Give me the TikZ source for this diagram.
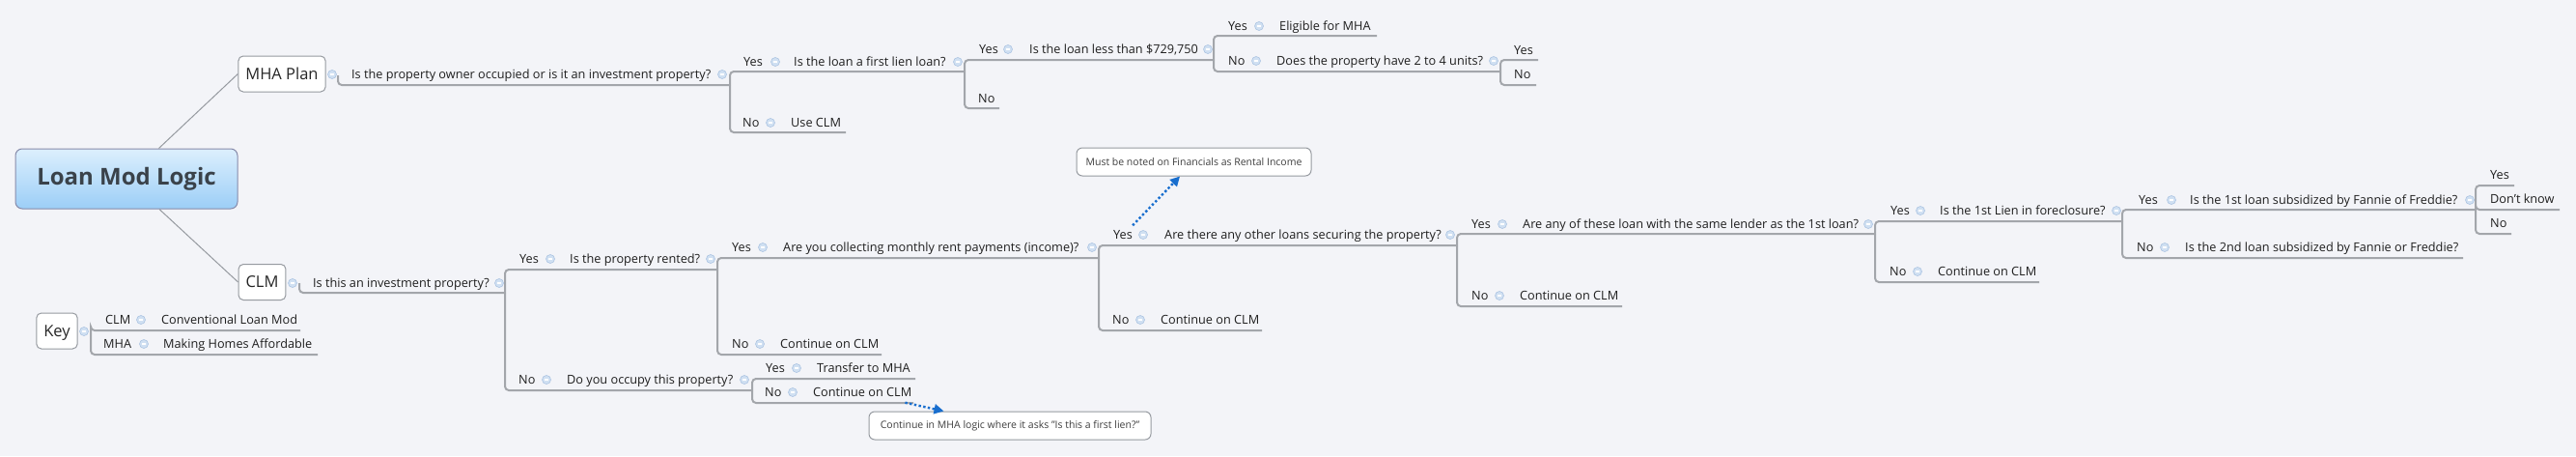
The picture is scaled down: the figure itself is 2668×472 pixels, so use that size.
\documentclass[tikz,border=0pt]{standalone}
\usepackage{fontspec}
\setmainfont{Open Sans}
\usepackage{tikz}
\usetikzlibrary{arrows.meta}

\definecolor{bg}{RGB}{243,244,248}
\definecolor{branchgrey}{RGB}{163,166,171}
\definecolor{boxgrey}{RGB}{150,154,160}
\definecolor{foldfill}{RGB}{208,224,242}
\definecolor{folddraw}{RGB}{172,196,226}
\definecolor{rootfont}{RGB}{58,66,74}
\definecolor{roottop}{RGB}{220,239,253}
\definecolor{rootbottom}{RGB}{156,206,247}
\definecolor{linkblue}{RGB}{24,110,206}
\definecolor{notefont}{RGB}{62,62,62}

\tikzset{
  txt/.style={anchor=west, inner sep=0pt, text height=9.07pt, text depth=0pt,
    font=\fontsize{12.7}{15}\selectfont, text=black!88},
  topicbox/.style={draw=boxgrey, fill=white, rounded corners=5pt, line width=1pt,
    minimum height=37pt, inner xsep=7.5pt, text height=11.8pt, text depth=0pt,
    font=\fontsize{16.5}{19}\selectfont, text=black!85},
  rootbox/.style={draw=boxgrey!90!blue, top color=roottop, bottom color=rootbottom,
    rounded corners=7pt, line width=1pt, minimum width=230pt, minimum height=62pt,
    font=\fontsize{24}{28}\selectfont\bfseries, text=rootfont},
  fold/.style={circle, inner sep=0pt, minimum size=9pt, fill=foldfill, draw=folddraw,
    line width=0.6pt,
    path picture={\draw[white, line width=1.1pt]
      ([xshift=-2.2pt]path picture bounding box.center) --
      ([xshift=2.2pt]path picture bounding box.center);}},
  notebox/.style={draw=boxgrey, fill=white, rounded corners=6pt, line width=1pt,
    minimum height=29pt, font=\fontsize{10.5}{12}\selectfont, text=notefont},
  branch/.style={draw=branchgrey, line width=2pt, rounded corners=4pt},
  spoke/.style={draw=boxgrey, line width=1pt},
  notelink/.style={draw=linkblue, line width=2.4pt, dash pattern=on 2.4pt off 2.4pt,
    -{Triangle[length=10pt,width=10pt]}},
}

\begin{document}
\begin{tikzpicture}[x=1pt,y=-1pt]
\useasboundingbox[fill=bg] (0,0) rectangle (2668,472);

% central topic and main branches
\node[rootbox] (root) at (131,185) {Loan Mod Logic};
\node[topicbox] (mha) at (292,76.5) {MHA Plan};
\node[topicbox] (clm) at (271.5,292) {CLM};
\node[topicbox] (key) at (59,342.5) {Key};
\draw[spoke] (root) -- (mha.west);
\draw[spoke] (root) -- (clm.west);

% MHA Plan
\node[fold] (mhaf) at (344,77) {};
\node[txt] (q1) at (364,77) {Is the property owner occupied or is it an investment property?};
\node[fold] (q1f) at (748,77) {};
\node[txt] (y1) at (770,64) {Yes};
\node[fold] (y1f) at (803,64) {};
\node[txt] (q2) at (822,64) {Is the loan a first lien loan?};
\node[fold] (q2f) at (992,64) {};
\node[txt] (n1) at (769,127) {No};
\node[fold] (n1f) at (798,127) {};
\node[txt] (usecl) at (819,127) {Use CLM};
\node[txt] (y2) at (1014,51) {Yes};
\node[fold] (y2f) at (1044,51) {};
\node[txt] (q3) at (1066,51) {Is the loan less than \$729,750};
\node[fold] (q3f) at (1251,51) {};
\node[txt] (n2) at (1013,102) {No};
\node[txt] (y3) at (1272,27) {Yes};
\node[fold] (y3f) at (1304,27) {};
\node[txt] (elig) at (1325,27) {Eligible for MHA};
\node[txt] (n3) at (1272,63) {No};
\node[fold] (n3f) at (1301,63) {};
\node[txt] (q4) at (1322,63) {Does the property have 2 to 4 units?};
\node[fold] (q4f) at (1547,63) {};
\node[txt] (y4) at (1568,52) {Yes};
\node[txt] (n4) at (1568,77) {No};

\coordinate (j0) at (350,78);
\coordinate (j1) at (756,88);
\coordinate (j2) at (999,74);
\coordinate (j3) at (1257,62);
\coordinate (j4) at (1554,74);
\coordinate (eusecl) at (876,137);
\coordinate (en2) at (1035,112);
\coordinate (eelig) at (1426,37);
\coordinate (ey4) at (1593,62);
\coordinate (en4) at (1591,88);
\draw[branch] (j0) |- (j1);
\draw[branch] (j1) |- (j2);
\draw[branch] (j1) |- (eusecl);
\draw[branch] (j2) |- (j3);
\draw[branch] (j2) |- (en2);
\draw[branch] (j3) |- (eelig);
\draw[branch] (j3) |- (j4);
\draw[branch] (j4) |- (ey4);
\draw[branch] (j4) |- (en4);

% CLM
\node[fold] (clmf) at (303,293) {};
\node[txt] (q5) at (324,293) {Is this an investment property?};
\node[fold] (q5f) at (517,293) {};
\node[txt] (y5) at (538,268) {Yes};
\node[fold] (y5f) at (570,268) {};
\node[txt] (q6) at (590,268) {Is the property rented?};
\node[fold] (q6f) at (736,268) {};
\node[txt] (n5) at (537,393) {No};
\node[fold] (n5f) at (566,393) {};
\node[txt] (q7) at (587,393) {Do you occupy this property?};
\node[fold] (q7f) at (771,393) {};
\node[txt] (y6) at (758,256) {Yes};
\node[fold] (y6f) at (790,256) {};
\node[txt] (q8) at (811,256) {Are you collecting monthly rent payments (income)?};
\node[fold] (q8f) at (1131,256) {};
\node[txt] (n6) at (758,356) {No};
\node[fold] (n6f) at (787,356) {};
\node[txt] (c1) at (808,356) {Continue on CLM};
\node[txt] (y7) at (793,381) {Yes};
\node[fold] (y7f) at (825,381) {};
\node[txt] (tmha) at (846,381) {Transfer to MHA};
\node[txt] (n7) at (792,406) {No};
\node[fold] (n7f) at (821,406) {};
\node[txt] (c2) at (842,406) {Continue on CLM};
\node[txt] (y8) at (1153,243) {Yes};
\node[fold] (y8f) at (1184,243) {};
\node[txt] (q9) at (1206,243) {Are there any other loans securing the property?};
\node[fold] (q9f) at (1502,243) {};
\node[txt] (n8) at (1152,331) {No};
\node[fold] (n8f) at (1181,331) {};
\node[txt] (c3) at (1202,331) {Continue on CLM};
\node[txt] (y9) at (1524,232) {Yes};
\node[fold] (y9f) at (1556,232) {};
\node[txt] (q10) at (1577,232) {Are any of these loan with the same lender as the 1st loan?};
\node[fold] (q10f) at (1935,232) {};
\node[txt] (n9) at (1524,306) {No};
\node[fold] (n9f) at (1553,306) {};
\node[txt] (c4) at (1574,306) {Continue on CLM};
\node[txt] (y10) at (1958,218) {Yes};
\node[fold] (y10f) at (1989,218) {};
\node[txt] (q11) at (2009,218) {Is the 1st Lien in foreclosure?};
\node[fold] (q11f) at (2192,218) {};
\node[txt] (n10) at (1957,281) {No};
\node[fold] (n10f) at (1986,281) {};
\node[txt] (c5) at (2007,281) {Continue on CLM};
\node[txt] (y11) at (2215,207) {Yes};
\node[fold] (y11f) at (2249,207) {};
\node[txt] (q12) at (2268,207) {Is the 1st loan subsidized by Fannie of Freddie?};
\node[fold] (q12f) at (2558,207) {};
\node[txt] (n11) at (2213,256) {No};
\node[fold] (n11f) at (2242,256) {};
\node[txt] (q13) at (2263,256) {Is the 2nd loan subsidized by Fannie or Freddie?};
\node[txt] (y12) at (2579,181) {Yes};
\node[txt] (dk) at (2579,206) {Don't know};
\node[txt] (n12) at (2579,231) {No};

\coordinate (k0) at (310,293);
\coordinate (k1) at (523,303);
\coordinate (k2) at (743,279);
\coordinate (k3) at (779,404);
\coordinate (k4) at (1138,267);
\coordinate (k5) at (1509,254);
\coordinate (k6) at (1942,242);
\coordinate (k7) at (2198,229);
\coordinate (k8) at (2564,217);
\coordinate (ec1) at (913,367);
\coordinate (etmha) at (948,392);
\coordinate (ec2) at (946,417);
\coordinate (ec3) at (1307,342);
\coordinate (ec4) at (1680,317);
\coordinate (ec5) at (2112,292);
\coordinate (eq13) at (2551,267);
\coordinate (ey12) at (2604,192);
\coordinate (edk) at (2651,217);
\coordinate (en12) at (2601,242);
\draw[branch] (k0) |- (k1);
\draw[branch] (k1) |- (k2);
\draw[branch] (k1) |- (k3);
\draw[branch] (k2) |- (k4);
\draw[branch] (k2) |- (ec1);
\draw[branch] (k3) |- (etmha);
\draw[branch] (k3) |- (ec2);
\draw[branch] (k4) |- (k5);
\draw[branch] (k4) |- (ec3);
\draw[branch] (k5) |- (k6);
\draw[branch] (k5) |- (ec4);
\draw[branch] (k6) |- (k7);
\draw[branch] (k6) |- (ec5);
\draw[branch] (k7) |- (k8);
\draw[branch] (k7) |- (eq13);
\draw[branch] (k8) |- (ey12);
\draw[branch] (k8) |- (edk);
\draw[branch] (k8) |- (en12);

% notes
\node[notebox, minimum width=243pt] (note1) at (1236.5,167.5) {Must be noted on Financials as Rental Income};
\node[notebox, minimum width=292pt] (note2) at (1046,440.5) {Continue in MHA logic where it asks "Is this a first lien?"};
\draw[notelink] ([yshift=5pt]y8.north east) -- (note1);
\draw[notelink] ([xshift=-7pt,yshift=-6pt]c2.south east) -- (note2);

% Key
\node[fold] (keyf) at (87,343) {};
\node[txt] (kc) at (109,331) {CLM};
\node[fold] (kcf) at (146,331) {};
\node[txt] (kcd) at (167,331) {Conventional Loan Mod};
\node[txt] (km) at (107,356) {MHA};
\node[fold] (kmf) at (149,356) {};
\node[txt] (kmd) at (169,356) {Making Homes Affordable};
\coordinate (m0) at (94,342);
\coordinate (ekc) at (311,342);
\coordinate (ekm) at (329,367);
\draw[branch] (m0) |- (ekc);
\draw[branch] (m0) |- (ekm);
\end{tikzpicture}
\end{document}
